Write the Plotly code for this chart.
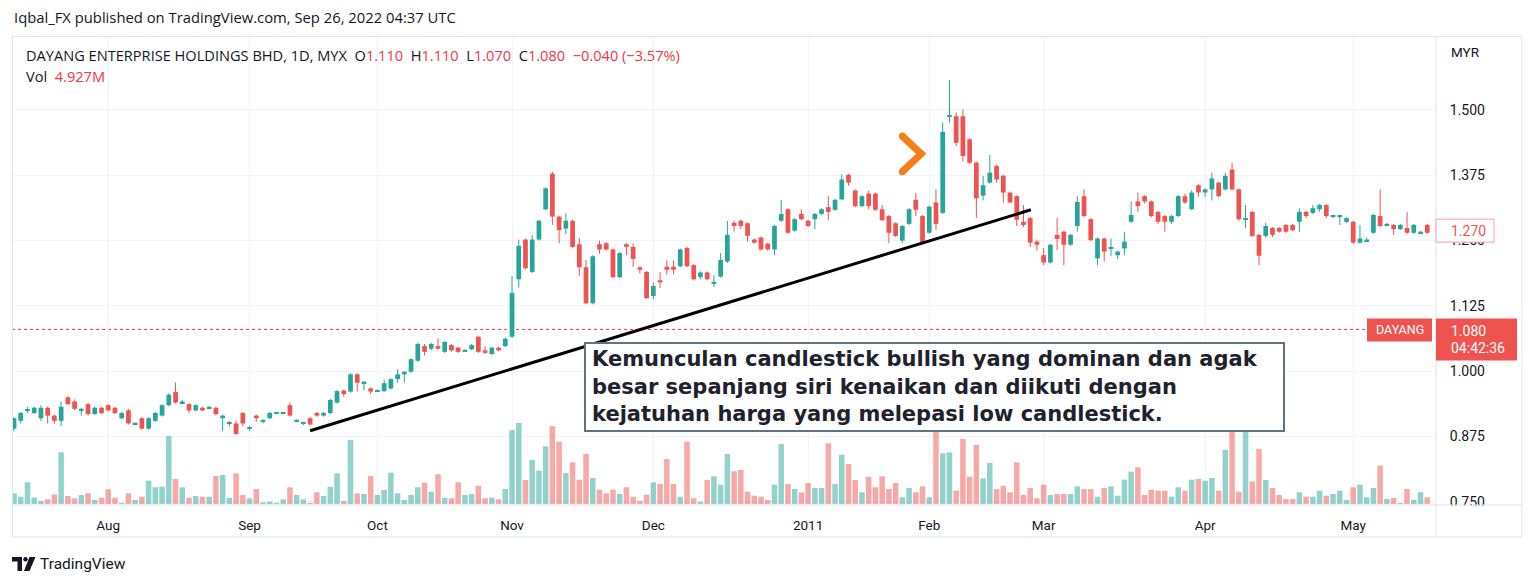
import plotly.graph_objects as go

# ---------------- data ----------------
opens = [0.890, 0.905, 0.925, 0.920, 0.910, 0.930, 0.915, 0.905, 0.950, 0.942,
         0.925, 0.937, 0.918, 0.930, 0.935, 0.930, 0.910, 0.925, 0.900, 0.910,
         0.890, 0.905, 0.915, 0.935, 0.960, 0.940, 0.937, 0.925, 0.930, 0.930,
         0.930, 0.910, 0.900, 0.900, 0.920, 0.890, 0.915, 0.904, 0.910, 0.920,
         0.920, 0.935, 0.905, 0.900, 0.910, 0.920, 0.915, 0.920, 0.940, 0.963,
         0.961, 0.994, 0.977, 0.967, 0.962, 0.962, 0.967, 0.985, 0.994, 0.999,
         1.020, 1.048, 1.043, 1.048, 1.037, 1.050, 1.045, 1.039, 1.042, 1.066,
         1.040, 1.033, 1.045, 1.048, 1.066, 1.176, 1.252, 1.190, 1.252, 1.310,
         1.378, 1.296, 1.273, 1.288, 1.243, 1.199, 1.130, 1.243, 1.245, 1.233,
         1.180, 1.243, 1.238, 1.199, 1.190, 1.144, 1.174, 1.200, 1.200, 1.201,
         1.236, 1.203, 1.180, 1.189, 1.168, 1.181, 1.210, 1.284, 1.288, 1.283,
         1.252, 1.256, 1.244, 1.233, 1.288, 1.310, 1.269, 1.301, 1.288, 1.291,
         1.301, 1.314, 1.309, 1.329, 1.376, 1.346, 1.316, 1.340, 1.340, 1.310,
         1.297, 1.283, 1.250, 1.282, 1.328, 1.297, 1.265, 1.323, 1.303, 1.488,
         1.488, 1.488, 1.444, 1.399, 1.336, 1.361, 1.393, 1.374, 1.342, 1.335,
         1.286, 1.293, 1.248, 1.222, 1.208, 1.261, 1.267, 1.242, 1.278, 1.335,
         1.291, 1.216, 1.254, 1.235, 1.222, 1.235, 1.286, 1.325, 1.335, 1.325,
         1.305, 1.297, 1.286, 1.297, 1.335, 1.310, 1.356, 1.342, 1.348, 1.361,
         1.348, 1.386, 1.348, 1.291, 1.305, 1.261, 1.259, 1.274, 1.274, 1.280,
         1.280, 1.286, 1.305, 1.303, 1.310, 1.318, 1.297, 1.297, 1.286, 1.286,
         1.246, 1.250, 1.265, 1.297, 1.280, 1.280, 1.272, 1.274, 1.265, 1.265,
         1.280]
highs = [0.912, 0.922, 0.932, 0.932, 0.935, 0.932, 0.917, 0.942, 0.952, 0.946,
         0.930, 0.940, 0.932, 0.932, 0.937, 0.932, 0.922, 0.928, 0.901, 0.912,
         0.912, 0.922, 0.937, 0.958, 0.978, 0.945, 0.939, 0.937, 0.932, 0.933,
         0.932, 0.917, 0.905, 0.905, 0.922, 0.895, 0.917, 0.908, 0.922, 0.921,
         0.921, 0.940, 0.908, 0.903, 0.912, 0.922, 0.922, 0.947, 0.964, 0.965,
         0.996, 0.996, 0.981, 0.969, 0.965, 0.984, 0.986, 1.004, 1.000, 1.025,
         1.055, 1.052, 1.054, 1.063, 1.058, 1.052, 1.047, 1.042, 1.052, 1.068,
         1.048, 1.047, 1.047, 1.065, 1.182, 1.252, 1.254, 1.260, 1.290, 1.352,
         1.382, 1.298, 1.302, 1.290, 1.255, 1.213, 1.222, 1.250, 1.247, 1.235,
         1.228, 1.245, 1.245, 1.201, 1.192, 1.170, 1.190, 1.212, 1.212, 1.235,
         1.238, 1.205, 1.191, 1.191, 1.184, 1.226, 1.288, 1.288, 1.290, 1.285,
         1.254, 1.258, 1.246, 1.280, 1.328, 1.312, 1.293, 1.310, 1.290, 1.303,
         1.312, 1.335, 1.330, 1.377, 1.378, 1.348, 1.337, 1.346, 1.342, 1.318,
         1.299, 1.285, 1.280, 1.312, 1.341, 1.299, 1.317, 1.348, 1.476, 1.557,
         1.495, 1.501, 1.446, 1.401, 1.374, 1.414, 1.395, 1.376, 1.344, 1.337,
         1.318, 1.295, 1.252, 1.236, 1.244, 1.293, 1.269, 1.263, 1.335, 1.348,
         1.293, 1.256, 1.256, 1.254, 1.231, 1.267, 1.325, 1.342, 1.337, 1.327,
         1.307, 1.299, 1.299, 1.337, 1.340, 1.346, 1.358, 1.350, 1.380, 1.363,
         1.380, 1.399, 1.350, 1.318, 1.307, 1.263, 1.284, 1.276, 1.276, 1.282,
         1.282, 1.312, 1.307, 1.318, 1.320, 1.320, 1.299, 1.299, 1.295, 1.288,
         1.280, 1.256, 1.301, 1.348, 1.284, 1.282, 1.282, 1.305, 1.282, 1.268,
         1.282]
lows = [0.885, 0.900, 0.920, 0.918, 0.905, 0.900, 0.900, 0.895, 0.935, 0.925,
        0.915, 0.915, 0.916, 0.918, 0.922, 0.918, 0.908, 0.898, 0.899, 0.888,
        0.888, 0.903, 0.913, 0.933, 0.938, 0.938, 0.920, 0.923, 0.923, 0.927,
        0.915, 0.885, 0.895, 0.878, 0.895, 0.885, 0.903, 0.900, 0.908, 0.919,
        0.919, 0.913, 0.902, 0.897, 0.896, 0.913, 0.913, 0.918, 0.938, 0.951,
        0.959, 0.961, 0.964, 0.956, 0.960, 0.960, 0.965, 0.978, 0.978, 0.997,
        1.018, 1.030, 1.040, 1.042, 1.035, 1.037, 1.035, 1.037, 1.040, 1.035,
        1.033, 1.031, 1.038, 1.046, 1.064, 1.160, 1.195, 1.188, 1.250, 1.308,
        1.280, 1.245, 1.262, 1.236, 1.182, 1.128, 1.128, 1.225, 1.231, 1.178,
        1.178, 1.222, 1.200, 1.187, 1.138, 1.138, 1.159, 1.185, 1.185, 1.199,
        1.199, 1.174, 1.176, 1.174, 1.161, 1.179, 1.207, 1.267, 1.272, 1.248,
        1.244, 1.231, 1.231, 1.222, 1.286, 1.263, 1.267, 1.289, 1.276, 1.272,
        1.299, 1.289, 1.307, 1.327, 1.355, 1.314, 1.314, 1.310, 1.307, 1.287,
        1.245, 1.257, 1.245, 1.280, 1.297, 1.243, 1.263, 1.270, 1.301, 1.476,
        1.431, 1.401, 1.397, 1.293, 1.327, 1.359, 1.361, 1.323, 1.321, 1.278,
        1.276, 1.238, 1.231, 1.203, 1.206, 1.232, 1.203, 1.240, 1.267, 1.295,
        1.249, 1.203, 1.210, 1.220, 1.215, 1.222, 1.284, 1.305, 1.321, 1.295,
        1.282, 1.267, 1.282, 1.295, 1.320, 1.308, 1.334, 1.334, 1.327, 1.333,
        1.346, 1.346, 1.288, 1.274, 1.257, 1.203, 1.255, 1.257, 1.265, 1.265,
        1.268, 1.267, 1.293, 1.301, 1.305, 1.293, 1.293, 1.280, 1.284, 1.244,
        1.244, 1.248, 1.263, 1.276, 1.278, 1.261, 1.270, 1.263, 1.263, 1.263,
        1.263]
closes = [0.910, 0.920, 0.926, 0.930, 0.930, 0.915, 0.905, 0.932, 0.937, 0.928,
          0.928, 0.918, 0.930, 0.920, 0.925, 0.920, 0.920, 0.900, 0.900, 0.890,
          0.910, 0.920, 0.935, 0.955, 0.940, 0.941, 0.925, 0.935, 0.925, 0.931,
          0.918, 0.915, 0.901, 0.880, 0.900, 0.893, 0.910, 0.905, 0.920, 0.920,
          0.920, 0.915, 0.906, 0.901, 0.898, 0.915, 0.920, 0.945, 0.962, 0.956,
          0.994, 0.978, 0.980, 0.961, 0.963, 0.977, 0.985, 0.994, 0.999, 1.023,
          1.052, 1.037, 1.052, 1.043, 1.056, 1.040, 1.037, 1.040, 1.050, 1.037,
          1.035, 1.045, 1.040, 1.062, 1.150, 1.240, 1.197, 1.252, 1.288, 1.350,
          1.296, 1.270, 1.288, 1.238, 1.199, 1.130, 1.220, 1.233, 1.233, 1.180,
          1.226, 1.238, 1.215, 1.194, 1.140, 1.163, 1.170, 1.194, 1.194, 1.233,
          1.201, 1.176, 1.189, 1.176, 1.171, 1.213, 1.261, 1.278, 1.278, 1.259,
          1.246, 1.233, 1.233, 1.278, 1.301, 1.265, 1.291, 1.291, 1.278, 1.301,
          1.310, 1.305, 1.328, 1.367, 1.361, 1.316, 1.335, 1.316, 1.309, 1.289,
          1.265, 1.259, 1.278, 1.310, 1.309, 1.245, 1.315, 1.282, 1.458, 1.490,
          1.437, 1.412, 1.399, 1.331, 1.356, 1.380, 1.367, 1.342, 1.323, 1.290,
          1.280, 1.246, 1.242, 1.208, 1.242, 1.253, 1.242, 1.261, 1.324, 1.297,
          1.251, 1.254, 1.229, 1.236, 1.229, 1.248, 1.299, 1.316, 1.325, 1.297,
          1.286, 1.286, 1.297, 1.335, 1.323, 1.342, 1.342, 1.348, 1.369, 1.335,
          1.374, 1.348, 1.291, 1.292, 1.259, 1.221, 1.278, 1.261, 1.267, 1.267,
          1.270, 1.305, 1.297, 1.312, 1.318, 1.297, 1.298, 1.298, 1.293, 1.246,
          1.254, 1.251, 1.299, 1.278, 1.281, 1.272, 1.280, 1.265, 1.280, 1.266,
          1.265]
volumes = [1.07, 0.73, 2.17, 0.63, 0.30, 0.47, 0.97, 5.17, 0.80, 0.57,
           0.90, 1.07, 0.40, 0.63, 1.47, 0.63, 0.13, 1.07, 0.40, 0.73,
           2.33, 1.67, 1.73, 6.80, 2.50, 1.67, 0.63, 0.80, 0.73, 0.73,
           2.80, 2.90, 0.63, 3.07, 0.90, 0.57, 1.50, 0.17, 0.23, 0.13,
           0.47, 1.67, 0.90, 0.47, 0.13, 1.17, 0.80, 1.73, 3.07, 0.30,
           6.40, 1.07, 1.00, 2.80, 0.90, 1.40, 3.13, 1.07, 0.40, 0.90,
           1.67, 2.13, 1.23, 2.97, 0.63, 0.57, 2.17, 0.90, 1.00, 1.83,
           0.57, 0.63, 0.47, 1.50, 7.40, 8.10, 2.40, 4.40, 3.33, 5.77,
           7.77, 6.23, 3.10, 4.17, 2.43, 5.00, 2.60, 1.43, 1.07, 1.43,
           1.00, 1.67, 0.73, 0.33, 0.93, 2.17, 2.00, 4.50, 2.00, 0.73,
           6.23, 0.57, 0.23, 2.40, 2.77, 1.93, 5.00, 3.27, 3.40, 1.23,
           0.83, 0.73, 0.40, 1.93, 6.00, 2.00, 1.50, 1.17, 2.10, 1.60,
           1.60, 6.07, 2.00, 4.93, 4.00, 2.40, 1.17, 2.73, 1.67, 2.77,
           1.50, 2.10, 0.67, 1.60, 1.17, 1.77, 0.67, 7.57, 5.07, 5.17,
           1.33, 6.50, 2.73, 5.90, 2.57, 4.10, 1.50, 1.83, 1.17, 4.17,
           0.90, 1.60, 0.57, 1.93, 0.90, 1.00, 1.00, 1.00, 1.77, 1.50,
           1.50, 0.73, 1.60, 1.77, 0.83, 2.43, 3.23, 3.67, 0.90, 1.43,
           1.33, 1.33, 0.73, 1.67, 1.33, 2.43, 2.50, 2.33, 2.60, 1.33,
           5.40, 11.57, 1.23, 7.50, 2.27, 5.50, 2.40, 1.60, 0.90, 0.50,
           0.50, 1.17, 0.73, 0.73, 1.33, 0.83, 1.00, 1.33, 0.40, 1.67,
           1.93, 0.67, 1.60, 3.83, 0.50, 0.60, 0.10, 1.50, 0.40, 1.17,
           0.67]

month_pos = [14, 35, 54, 74, 95, 118, 136, 153, 177, 199]
month_labels = ["Aug", "Sep", "Oct", "Nov", "Dec", "2011", "Feb", "Mar", "Apr", "May"]
price_ticks = [0.750, 0.875, 1.000, 1.125, 1.250, 1.375, 1.500]

trend_x = [44.0, 151.1]
trend_y = [0.886, 1.309]
chevron_x = [132.0, 134.8, 132.0]
chevron_y = [1.450, 1.416, 1.382]

last_price = 1.080
marked_price = 1.270
hdr_open, hdr_high, hdr_low, hdr_close = "1.110", "1.110", "1.070", "1.080"
hdr_change = "\u22120.040 (\u22123.57%)"
hdr_volume = "4.927M"
countdown = "04:42:36"

title_text = "Iqbal_FX published on TradingView.com, Sep 26, 2022 04:37 UTC"
symbol_text = "DAYANG ENTERPRISE HOLDINGS BHD, 1D, MYX"
note_lines = [
    "Kemunculan candlestick bullish yang dominan dan agak",
    "besar sepanjang siri kenaikan dan diikuti dengan",
    "kejatuhan harga yang melepasi low candlestick.",
]

# ---------------- styling ----------------
GREEN = "#26a69a"
RED = "#ef5350"
VAL_RED = "#f23645"
TXT = "#131722"
GRID = "#f0f3fa"
BORDER = "#e0e3eb"
FONT = "Roboto"
UI_FONT = "Open Sans"

W, H = 1536, 587
L, R, T, B = 12, 1436, 37, 505


def px(x):
    return (x - L) / (R - L)


def py(y):
    return 1 - (y - T) / (B - T)


n = len(opens)
idx = list(range(n))
up = [c >= o for o, c in zip(opens, closes)]

fig = go.Figure()

# volume (main y axis, drawn first / below)
vol_colors = ["rgba(38,166,154,0.5)" if u else "rgba(239,83,80,0.5)" for u in up]
fig.add_trace(go.Bar(x=idx, y=volumes, width=0.82, yaxis="y",
                     marker=dict(color=vol_colors, line=dict(width=0)),
                     hoverinfo="skip"))

# wicks
for flag, col in ((True, GREEN), (False, RED)):
    wx, wy = [], []
    for i in idx:
        if up[i] == flag:
            wx += [i, i, None]
            wy += [lows[i], highs[i], None]
    fig.add_trace(go.Scatter(x=wx, y=wy, mode="lines", yaxis="y2",
                             line=dict(color=col, width=1), hoverinfo="skip"))

# bodies
base, height = [], []
for o, c in zip(opens, closes):
    h = abs(c - o)
    if h < 0.003:
        base.append((o + c) / 2 - 0.0015)
        height.append(0.003)
    else:
        base.append(min(o, c))
        height.append(h)
fig.add_trace(go.Bar(x=idx, y=height, base=base, width=0.7, yaxis="y2",
                     marker=dict(color=[GREEN if u else RED for u in up], line=dict(width=0)),
                     hoverinfo="skip"))

# trend line and chevron
fig.add_trace(go.Scatter(x=trend_x, y=trend_y, mode="lines", yaxis="y2",
                         line=dict(color="#000000", width=3), hoverinfo="skip"))
fig.add_trace(go.Scatter(x=chevron_x, y=chevron_y, mode="lines+markers", yaxis="y2",
                         line=dict(color="#f57f17", width=7),
                         marker=dict(color="#f57f17", size=7, line=dict(width=0)),
                         hoverinfo="skip"))

shapes = []
# cover the area of the price scale below the pane (clips the 0.750 label)
shapes.append(dict(type="rect", xref="paper", yref="paper", x0=px(R + 1), x1=px(1521.5),
                   y0=py(536.5), y1=py(505.5), fillcolor="white", line=dict(width=0), layer="above"))
# frame lines
for (x0, y0, x1, y1) in [(L, 36.5, 1522, 36.5), (L, 537, 1522, 537), (L, B, 1522, B),
                         (12.5, 36.5, 12.5, 537), (1522, 36.5, 1522, 537), (R, 36.5, R, 537)]:
    shapes.append(dict(type="line", xref="paper", yref="paper", x0=px(x0), x1=px(x1),
                       y0=py(y0), y1=py(y1), line=dict(color=BORDER, width=1), layer="above"))
# dotted current price line
shapes.append(dict(type="line", xref="paper", yref="y2", x0=0, x1=px(1367), y0=last_price, y1=last_price,
                   line=dict(color=VAL_RED, width=1, dash="dot"), layer="below"))
# marked price label box
shapes.append(dict(type="rect", xref="paper", yref="y2", ysizemode="pixel", yanchor=marked_price,
                   x0=px(R), x1=px(1494), y0=-12, y1=11, fillcolor="white",
                   line=dict(color="#f7a1a0", width=1), layer="above"))
# current price label boxes
shapes.append(dict(type="rect", xref="paper", yref="y2", ysizemode="pixel", yanchor=last_price,
                   x0=px(R), x1=px(1517), y0=-31, y1=11, fillcolor=RED,
                   line=dict(width=0), layer="above"))
shapes.append(dict(type="rect", xref="paper", yref="y2", ysizemode="pixel", yanchor=last_price,
                   x0=px(1367), x1=px(1432), y0=-12, y1=11, fillcolor=RED,
                   line=dict(width=0), layer="above"))
# note box
shapes.append(dict(type="rect", xref="paper", yref="paper", x0=px(585), x1=px(1284),
                   y0=py(431), y1=py(343), fillcolor="white",
                   line=dict(color="#5f7383", width=2), layer="above"))
# TradingView logo
logo_T = "M{},{} L{},{} L{},{} L{},{} L{},{} L{},{} Z".format(
    px(12), py(557), px(22), py(557), px(22), py(571), px(17.5), py(571), px(17.5), py(561.5), px(12), py(561.5))
logo_V = "M{},{} L{},{} L{},{} L{},{} Z".format(
    px(29.5), py(557), px(35.5), py(557), px(29.5), py(571), px(24), py(571))
shapes.append(dict(type="path", xref="paper", yref="paper", path=logo_T, fillcolor=TXT,
                   line=dict(width=0), layer="above"))
shapes.append(dict(type="path", xref="paper", yref="paper", path=logo_V, fillcolor=TXT,
                   line=dict(width=0), layer="above"))
shapes.append(dict(type="circle", xref="paper", yref="paper", x0=px(23.3), x1=px(27.7),
                   y0=py(561.5), y1=py(557.1), fillcolor=TXT, line=dict(width=0), layer="above"))

annotations = []


def add_text(text, x, y, size=13, color=TXT, xanchor="left", family=UI_FONT, yref="paper",
             yshift=0, weight="normal"):
    annotations.append(dict(text=text, x=px(x), y=(py(y) if yref == "paper" else y), xref="paper",
                            yref=yref, xanchor=xanchor, yanchor="middle", showarrow=False,
                            yshift=yshift, font=dict(size=size, color=color, family=family,
                                                     weight=weight)))


def red(v):
    return '<span style="color:{}">{}</span>'.format(VAL_RED, v)


sp = "\u00a0\u00a0"
add_text(title_text, 12, 17, size=14.8)
add_text(symbol_text + sp + "O" + red(hdr_open) + sp + "H" + red(hdr_high) + sp + "L" + red(hdr_low)
         + sp + "C" + red(hdr_close) + sp + red(hdr_change), 24, 55, size=14.6)
add_text("Vol" + sp + red(hdr_volume), 24, 76, size=14.6)
add_text("MYR", 1449, 52, size=13.5, family=FONT)
add_text("{:.3f}".format(marked_price), 1449, marked_price, size=14, color=RED, yref="y2",
         yshift=-1, family=FONT)
add_text("{:.3f}".format(last_price), 1449, last_price, size=14, color="white", yref="y2",
         yshift=-2, family=FONT)
add_text(countdown, 1449, last_price, size=14, color="white", yref="y2", yshift=-19, family=FONT)
add_text("DAYANG", 1399.5, last_price, size=12.5, color="white", xanchor="center", yref="y2",
         family=FONT)
for k, line in enumerate(note_lines):
    add_text(line, 590, [359, 387, 414][k], size=21, color="#1e222d", family="DejaVu Sans",
             weight="bold")
add_text("TradingView", 38, 564, size=15.5, family=FONT)

fig.update_layout(
    width=W, height=H, autosize=False,
    margin=dict(l=L, r=W - R, t=T, b=H - B, pad=0),
    paper_bgcolor="white", plot_bgcolor="white",
    showlegend=False, hovermode=False, barmode="overlay",
    font=dict(family=FONT, color=TXT),
    xaxis=dict(type="linear", range=[-0.3, 211.3], tickvals=month_pos, ticktext=month_labels,
               showgrid=True, gridcolor=GRID, gridwidth=1, zeroline=False, showline=False,
               ticks="outside", ticklen=8, tickcolor="rgba(0,0,0,0)",
               tickfont=dict(size=13.5, color=TXT, family=FONT), fixedrange=True),
    yaxis=dict(range=[-0.1, 46.7], visible=False, showgrid=False, zeroline=False, fixedrange=True),
    yaxis2=dict(overlaying="y", side="right", range=[0.7439, 1.6397], tickvals=price_ticks,
                ticktext=["{:.3f}".format(v) for v in price_ticks],
                showgrid=True, gridcolor=GRID, gridwidth=1, zeroline=False, showline=False,
                ticks="outside", ticklen=10, tickcolor="rgba(0,0,0,0)",
                tickfont=dict(size=14, color=TXT, family=FONT), fixedrange=True),
    shapes=shapes, annotations=annotations,
)

fig.write_html("out.html", config={"displayModeBar": False})
